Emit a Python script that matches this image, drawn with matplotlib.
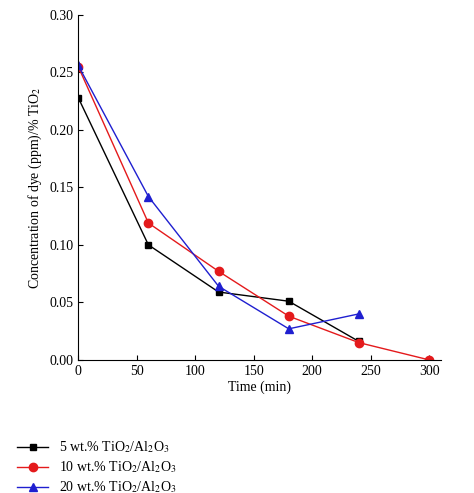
import matplotlib
matplotlib.use("Agg")
import matplotlib.pyplot as plt

plt.rcParams['font.family'] = ['Liberation Serif', 'DejaVu Serif']
plt.rcParams['mathtext.fontset'] = 'stix'

time_min = [0, 60, 120, 180, 240, 300]
c5 = [0.228, 0.100, 0.059, 0.051, 0.016]
c10 = [0.255, 0.119, 0.077, 0.038, 0.015, 0.000]
c20 = [0.256, 0.142, 0.064, 0.027, 0.040]

fig = plt.figure(figsize=(4.74, 4.93), dpi=100)
ax = fig.add_axes([0.165, 0.27, 0.765, 0.70])

ax.plot(time_min[:5], c5, color='black', marker='s', ms=5, lw=1, label='5 wt.% TiO$_2$/Al$_2$O$_3$')
ax.plot(time_min, c10, color='#e41a1c', marker='o', ms=6, lw=1, label='10 wt.% TiO$_2$/Al$_2$O$_3$')
ax.plot(time_min[:5], c20, color='#1f1fd0', marker='^', ms=6, lw=1, label='20 wt.% TiO$_2$/Al$_2$O$_3$')

ax.set_xlim(0, 310)
ax.set_ylim(0, 0.30)
ax.set_xticks([0, 50, 100, 150, 200, 250, 300])
ax.set_yticks([0, 0.05, 0.10, 0.15, 0.20, 0.25, 0.30])
ax.set_yticklabels(['0.00', '0.05', '0.10', '0.15', '0.20', '0.25', '0.30'])
ax.spines['top'].set_visible(False)
ax.spines['right'].set_visible(False)
ax.tick_params(labelsize=10, direction='in')
ax.set_xlabel('Time (min)', fontsize=10, labelpad=2)
ax.set_ylabel('Concentration of dye (ppm)/% TiO$_2$', fontsize=10)

fig.legend(loc='lower left', bbox_to_anchor=(0.01, -0.03), frameon=False, fontsize=10,
           handlelength=2.2, labelspacing=0.3)

fig.savefig('out.png', dpi=100)
